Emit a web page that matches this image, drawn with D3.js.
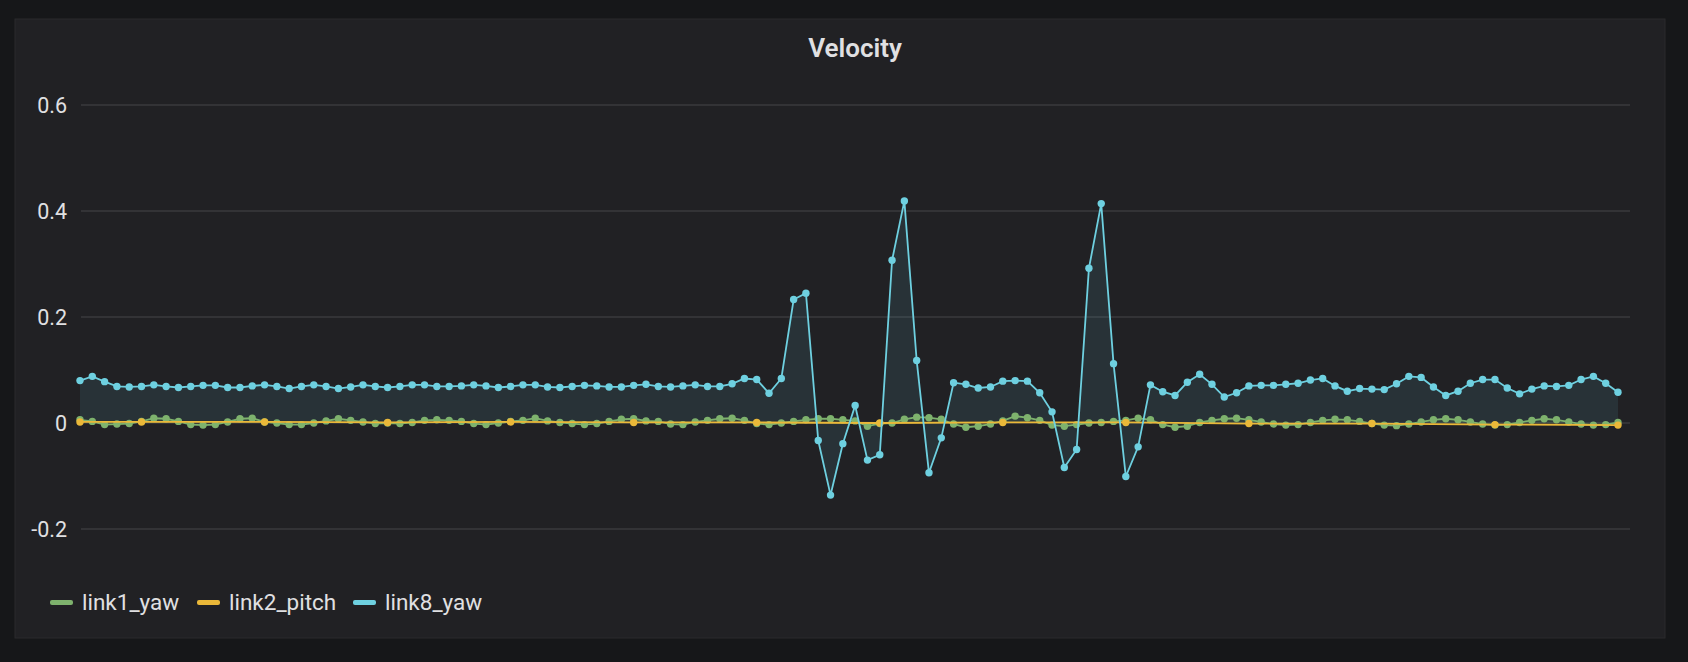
<!DOCTYPE html>
<html>
<head>
<meta charset="utf-8">
<script src="https://cdn.jsdelivr.net/npm/d3@7"></script>
<style>
  html, body { margin: 0; padding: 0; background: #161719; }
  svg { display: block; font-family: Roboto, "Helvetica Neue", Arial, sans-serif; }
</style>
</head>
<body>
<div id="chart"></div>
<script>
// data, one sample per index
const link8_yaw = [
  0.080, 0.088, 0.078, 0.069, 0.068, 0.069, 0.072, 0.069, 0.067, 0.069,
  0.071, 0.071, 0.067, 0.067, 0.070, 0.072, 0.069, 0.065, 0.069, 0.072,
  0.069, 0.065, 0.068, 0.072, 0.069, 0.067, 0.069, 0.072, 0.072, 0.069,
  0.069, 0.070, 0.072, 0.070, 0.067, 0.069, 0.072, 0.072, 0.068, 0.067,
  0.069, 0.071, 0.070, 0.068, 0.068, 0.071, 0.073, 0.069, 0.068, 0.070,
  0.072, 0.069, 0.069, 0.074, 0.084, 0.082, 0.056, 0.084, 0.233, 0.245,
  -0.033, -0.136, -0.039, 0.033, -0.070, -0.060, 0.307, 0.419, 0.118, -0.094,
  -0.028, 0.076, 0.073, 0.066, 0.068, 0.079, 0.080, 0.079, 0.057, 0.021,
  -0.084, -0.050, 0.292, 0.414, 0.112, -0.101, -0.045, 0.072, 0.059, 0.052,
  0.077, 0.092, 0.073, 0.049, 0.057, 0.070, 0.071, 0.071, 0.073, 0.075,
  0.081, 0.084, 0.070, 0.060, 0.065, 0.064, 0.063, 0.074, 0.088, 0.086,
  0.068, 0.052, 0.060, 0.075, 0.082, 0.082, 0.066, 0.055, 0.064, 0.070,
  0.069, 0.071, 0.082, 0.088, 0.075, 0.058
];
const link1_yaw = [
  0.006, 0.003, -0.003, -0.002, -0.001, 0.003, 0.009, 0.008, 0.003, -0.003,
  -0.004, -0.003, 0.002, 0.008, 0.009, 0.002, 0.000, -0.003, -0.003, 0.000,
  0.004, 0.008, 0.005, 0.002, -0.001, 0.000, -0.001, 0.001, 0.005, 0.006,
  0.005, 0.003, -0.001, -0.003, 0.000, 0.003, 0.005, 0.009, 0.004, 0.001,
  -0.001, -0.003, -0.001, 0.003, 0.007, 0.008, 0.004, 0.003, -0.002, -0.003,
  0.002, 0.005, 0.008, 0.009, 0.005, -0.001, -0.003, 0.000, 0.003, 0.006,
  0.008, 0.008, 0.006, 0.004, -0.006, -0.001, 0.000, 0.007, 0.011, 0.010,
  0.007, -0.002, -0.008, -0.006, -0.002, 0.004, 0.013, 0.010, 0.005, -0.004,
  -0.006, -0.003, 0.000, 0.001, 0.003, 0.005, 0.009, 0.006, -0.003, -0.008,
  -0.006, 0.001, 0.005, 0.008, 0.009, 0.006, 0.002, -0.002, -0.004, -0.003,
  0.001, 0.005, 0.007, 0.006, 0.003, -0.001, -0.004, -0.005, -0.002, 0.002,
  0.006, 0.008, 0.006, 0.002, -0.002, -0.004, -0.003, 0.001, 0.005, 0.008,
  0.006, 0.002, -0.002, -0.004, -0.003, 0.001
];
// link2_pitch only has a sample every 10 steps
const link2_idx = [0, 5, 15, 25, 35, 45, 55, 65, 75, 85, 95, 105, 115, 125];
const link2_pitch = [0.002, 0.002, 0.002, 0.001, 0.002, 0.001, 0.001, 0.000, 0.001, 0.001, -0.001, -0.001, -0.003, -0.004];

const yTicks = [-0.2, 0, 0.2, 0.4, 0.6];
const yTickLabels = ["-0.2", "0", "0.2", "0.4", "0.6"];
const seriesNames = ["link1_yaw", "link2_pitch", "link8_yaw"];
const seriesColors = ["#7eb26d", "#eab839", "#6ed0e0"];

const W = 1688, H = 662;
const svg = d3.select("#chart").append("svg").attr("width", W).attr("height", H);

// panel
svg.append("rect").attr("x", 15).attr("y", 19).attr("width", 1650).attr("height", 619)
  .attr("fill", "#212124").attr("stroke", "#2a2a2d");

svg.append("text").attr("x", 855).attr("y", 57).attr("text-anchor", "middle")
  .attr("fill", "#e0e0e2").attr("font-size", 26).attr("font-weight", 600).text("Velocity");

const n = link8_yaw.length;
const x = d3.scaleLinear().domain([0, n - 1]).range([80, 1618]);
const y = d3.scaleLinear().domain([-0.2, 0.6]).range([529, 105]);

// grid + y labels
const grid = svg.append("g");
yTicks.forEach((t, k) => {
  grid.append("line").attr("x1", 81).attr("x2", 1630).attr("y1", y(t)).attr("y2", y(t))
    .attr("stroke", "#464649").attr("stroke-width", 1);
  grid.append("text").attr("x", 67).attr("y", y(t) + 7.5).attr("text-anchor", "end")
    .attr("fill", "#e0e0e2").attr("font-size", 21.5).text(yTickLabels[k]);
});

const toPts = (vals, idx) => vals.map((v, i) => ({ i: idx ? idx[i] : i, v }));
const series = [
  toPts(link1_yaw),
  toPts(link2_pitch, link2_idx),
  toPts(link8_yaw)
];

const area = d3.area().x(d => x(d.i)).y0(y(0)).y1(d => y(d.v));
const line = d3.line().x(d => x(d.i)).y(d => y(d.v));

series.forEach((pts, k) => {
  svg.append("path").datum(pts).attr("d", area)
    .attr("fill", seriesColors[k]).attr("fill-opacity", 0.1);
});
series.forEach((pts, k) => {
  const g = svg.append("g");
  g.append("path").datum(pts).attr("d", line)
    .attr("fill", "none").attr("stroke", seriesColors[k]).attr("stroke-width", 1.8);
  g.selectAll("circle").data(pts).enter().append("circle")
    .attr("cx", d => x(d.i)).attr("cy", d => y(d.v)).attr("r", 3.7)
    .attr("fill", seriesColors[k]);
});

// legend
const legX = [50, 197, 353];
const leg = svg.append("g");
seriesNames.forEach((name, k) => {
  leg.append("rect").attr("x", legX[k]).attr("y", 600).attr("width", 23).attr("height", 5)
    .attr("rx", 2).attr("fill", seriesColors[k]);
  leg.append("text").attr("x", legX[k] + 32).attr("y", 610).attr("fill", "#e0e0e2")
    .attr("font-size", 22.5).text(name);
});
</script>
</body>
</html>
